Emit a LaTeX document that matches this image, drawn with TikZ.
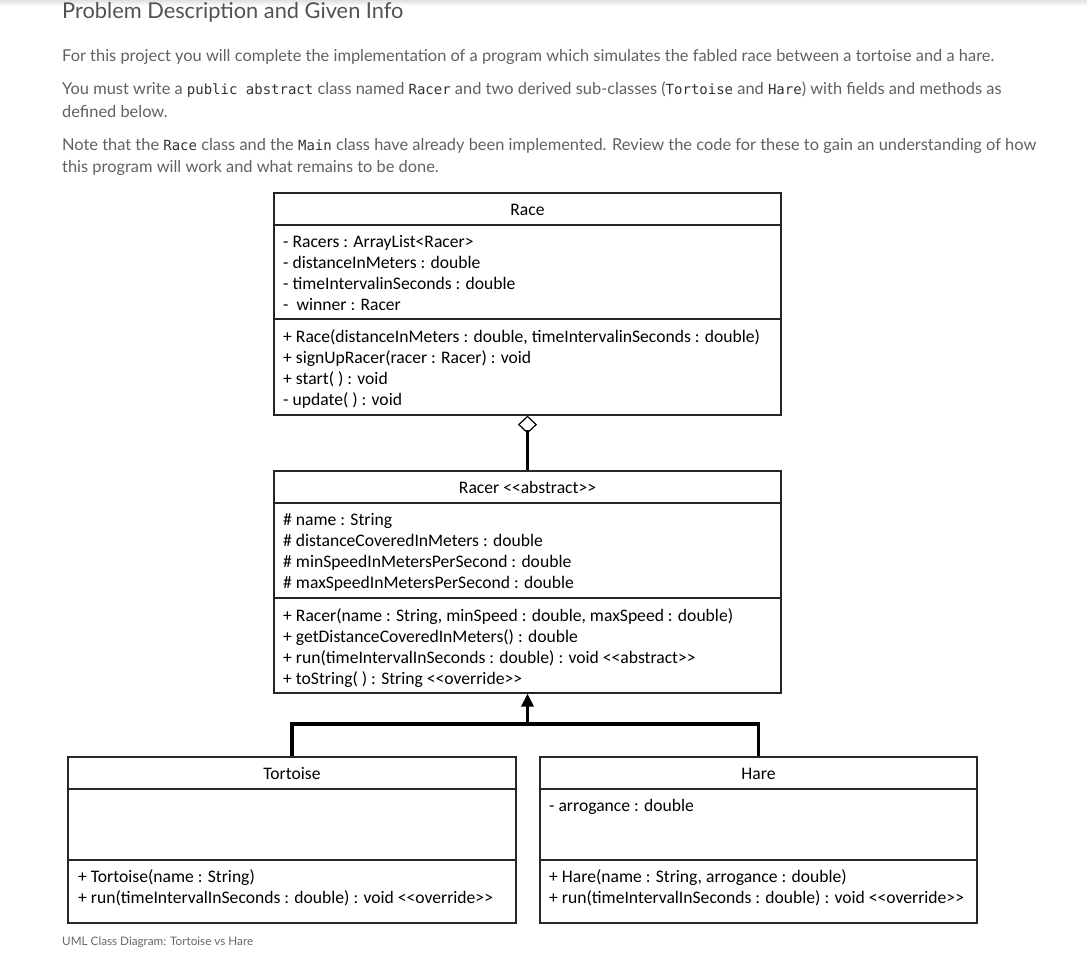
\documentclass[tikz,border=0pt]{standalone}
\usepackage{fontspec}
\setmainfont{Lato}
\newfontfamily\dia{Carlito}
\newfontfamily\codef{DejaVu Sans Mono}
\usetikzlibrary{arrows.meta}
\newcommand\cd[1]{{\codef\fontsize{14}{16}\selectfont\color{black!80}#1}}
\begin{document}
\begin{tikzpicture}[x=1pt,y=-1pt,
  clsbox/.style={draw=black!85, line width=1.2pt, inner sep=0pt},
  divider/.style={draw=black!85, line width=1.2pt},
  dtxt/.style={font=\dia\fontsize{17.6}{20}\selectfont, anchor=base west, inner sep=0pt, text=black},
  dtitle/.style={font=\dia\fontsize{17.6}{20}\selectfont, anchor=base, inner sep=0pt, text=black},
  btxt/.style={font=\fontsize{16.4}{20}\selectfont, anchor=base west, inner sep=0pt, text=black!62},
  conn/.style={line width=3.5pt, draw=black, line join=miter}
]
\useasboundingbox (0,0) rectangle (1087,958);
\fill[white] (0,0) rectangle (1087,958);
\shade[top color=black!12, bottom color=white] (0,0) rectangle (1087,6);

% heading and text
\node[btxt, font=\fontsize{21.8}{24}\selectfont, text=black!68] (head) at (62,19) {Problem Description and Given Info};
\node[btxt] (p1) at (62,62) {For this project you will complete the implementation of a program which simulates the fabled race between a tortoise and a hare.};
\node[btxt] (p2a) at (62,95) {You must write a \cd{public abstract} class named \cd{Racer} and two derived sub-classes (\cd{Tortoise} and \cd{Hare}) with fields and methods as};
\node[btxt] (p2b) at (62,117) {defined below.};
\node[btxt] (p3a) at (62,150) {Note that the \cd{Race} class and the \cd{Main} class have already been implemented. Review the code for these to gain an understanding of how};
\node[btxt] (p3b) at (62,172) {this program will work and what remains to be done.};

% class boxes
\node[clsbox, minimum width=507pt, minimum height=222pt] (race) at (527.5,304) {};
\node[clsbox, minimum width=507pt, minimum height=222pt] (racer) at (527.5,582) {};
\node[clsbox, minimum width=448pt, minimum height=166pt] (tort) at (292,840) {};
\node[clsbox, minimum width=437pt, minimum height=166pt] (hare) at (758.5,840) {};

\draw[divider] (race.west |- 0,225) -- (race.east |- 0,225);
\draw[divider] (race.west |- 0,319) -- (race.east |- 0,319);
\draw[divider] (racer.west |- 0,503) -- (racer.east |- 0,503);
\draw[divider] (racer.west |- 0,598) -- (racer.east |- 0,598);
\draw[divider] (tort.west |- 0,789) -- (tort.east |- 0,789);
\draw[divider] (tort.west |- 0,860) -- (tort.east |- 0,860);
\draw[divider] (hare.west |- 0,789) -- (hare.east |- 0,789);
\draw[divider] (hare.west |- 0,860) -- (hare.east |- 0,860);

% Race
\node[dtitle] (raceT) at (527.5,215) {Race};
\node[dtxt] (ra1) at (283,247) {- Racers : ArrayList<Racer>};
\node[dtxt] (ra2) at (283,268) {- distanceInMeters : double};
\node[dtxt] (ra3) at (283,289) {- timeIntervalinSeconds : double};
\node[dtxt] (ra4) at (283,310) {-\ \ winner : Racer};
\node[dtxt] (rm1) at (283,342) {+ Race(distanceInMeters : double, timeIntervalinSeconds : double)};
\node[dtxt] (rm2) at (283,363) {+ signUpRacer(racer : Racer) : void};
\node[dtxt] (rm3) at (283,384) {+ start( ) : void};
\node[dtxt] (rm4) at (283,405) {- update( ) : void};

% Racer
\node[dtitle] (racerT) at (527.5,493) {Racer <<abstract>>};
\node[dtxt] (qa1) at (283,525) {\# name : String};
\node[dtxt] (qa2) at (283,546) {\# distanceCoveredInMeters : double};
\node[dtxt] (qa3) at (283,567) {\# minSpeedInMetersPerSecond : double};
\node[dtxt] (qa4) at (283,588) {\# maxSpeedInMetersPerSecond : double};
\node[dtxt] (qm1) at (283,621) {+ Racer(name : String, minSpeed : double, maxSpeed : double)};
\node[dtxt] (qm2) at (283,642) {+ getDistanceCoveredInMeters() : double};
\node[dtxt] (qm3) at (283,663) {+ run(timeIntervalInSeconds : double) : void <<abstract>>};
\node[dtxt] (qm4) at (283,684) {+ toString( ) : String <<override>>};

% Tortoise
\node[dtitle] (tortT) at (292,779) {Tortoise};
\node[dtxt] (tm1) at (78,882) {+ Tortoise(name : String)};
\node[dtxt] (tm2) at (78,903) {+ run(timeIntervalInSeconds : double) : void <<override>>};

% Hare
\node[dtitle] (hareT) at (758.5,779) {Hare};
\node[dtxt] (ha1) at (549,811) {- arrogance : double};
\node[dtxt] (hm1) at (549,882) {+ Hare(name : String, arrogance : double)};
\node[dtxt] (hm2) at (549,903) {+ run(timeIntervalInSeconds : double) : void <<override>>};

% connectors
\draw[conn, {Diamond[open, length=18pt, width=19pt, line width=1.2pt]}-] (race.south) -- (racer.north);
\coordinate (j) at (527.5,724);
\draw[conn, -{Triangle[length=13pt, width=12pt]}] (j) -- (racer.south);
\draw[conn] (tort.north) |- (j) -| (hare.north);

% caption
\node[btxt, font=\fontsize{11.7}{13}\selectfont, text=black!60] (cap) at (62,945) {UML Class Diagram: Tortoise vs Hare};
\end{tikzpicture}
\end{document}
